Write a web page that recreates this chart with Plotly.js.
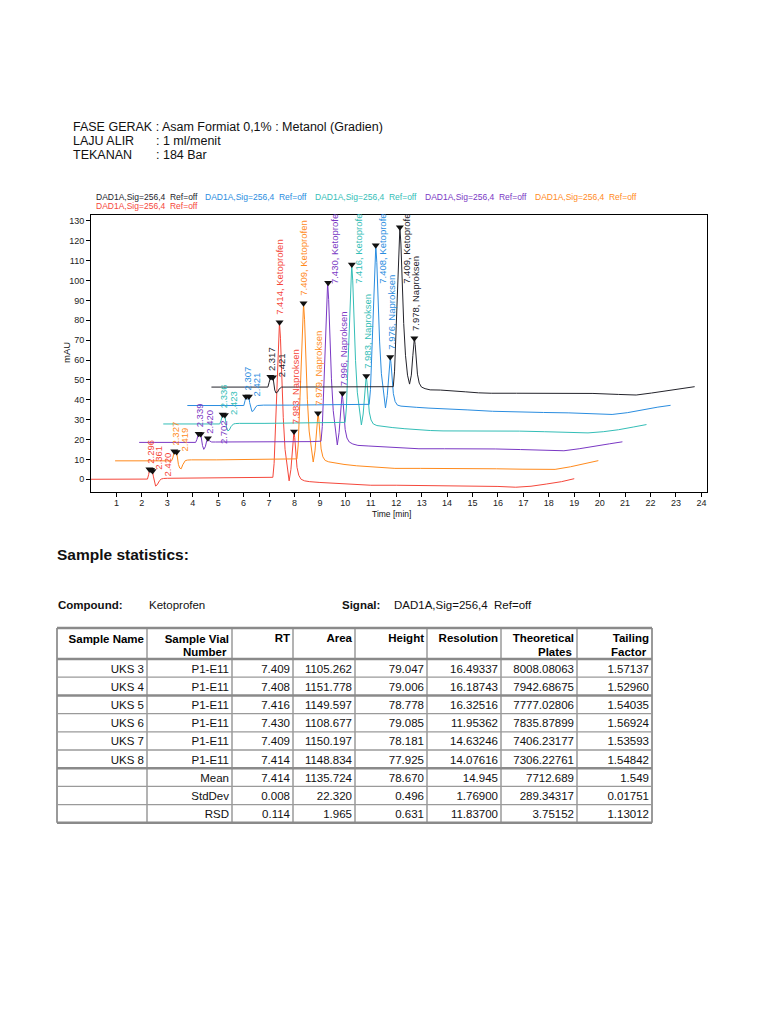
<!DOCTYPE html>
<html>
<head>
<meta charset="utf-8">
<script src="https://cdn.plot.ly/plotly-3.0.1.min.js"></script>
<style>
html,body{margin:0;padding:0;background:#fff;}
#chart{width:768px;height:1024px;}
</style>
</head>
<body>
<div id="chart"></div>
<script>
// ---------------- DATA ----------------
// raw retention time grid (min), shared by the six overlaid runs
const TIME = [0,1.0,2.0,2.22,2.27,2.30,2.33,2.36,2.39,2.42,2.45,2.49,2.54,2.60,2.66,2.70,2.76,2.85,3.0,4.0,5.0,6.0,6.8,7.15,7.20,7.26,7.32,7.37,7.41,7.45,7.50,7.56,7.63,7.71,7.79,7.86,7.92,7.955,7.98,8.01,8.05,8.10,8.17,8.26,8.40,8.6,9.0,9.5,10.0,10.5,11.0,12.0,13.0,14.0,15.0,16.0,16.7,17.3,17.9,18.5,19.0];

// detector signal (mAU) of each run
const SIG_RED    = [0,0,0, 0.1,2.5,5.0,3.8,4.8,3.4,4.2,1.6,-1.6,-3.4,-2.8,-1.3,-0.6,0.1,0.4, 0.5,0.6,0.6,0.7,0.8, 1.0,8,28,52,71,79.0,71,51,31,15,5.5,-0.8, 5,15.5,21.5,24.0,21,13,6,2.0,0,-0.8, -1.2,-1.6,-2.0,-2.4,-2.7,-3.0,-3.0,-3.1,-3.2,-3.3,-3.6,-4.0,-3.5,-2.4,-1.2,0.3];
const SIG_ORANGE = [0,0,0, 0,1.5,3.5,4.8,3.6,3.8,4.5,1.5,-1.8,-3.6,-4.0,-2.0,-0.8,0.1,0.4, 0.5,0.5,0.6,0.7,0.9, 1.0,8,28,52,71,79.3,71,51,31,15,5.5,-0.6, 5,15.5,21.5,24.0,21,13,6,2.0,0.2,-0.5, -1.0,-1.8,-2.5,-3.0,-3.4,-3.8,-3.8,-3.8,-3.8,-4.0,-4.2,-4.4,-4.3,-3.0,-1.5,0.1];
const SIG_PURPLE = [0,0,0, 0,1.5,3.2,4.4,3.4,3.3,4.2,1.5,-1.6,-3.5,-2.2,1.0,2.1,0.8,0.2, 0.2,0.2,0.3,0.3,0.4, 0.6,8,28,53,72,80.3,72,52,32,16,6,-1.3, 5,16,22,24.7,21.5,13.5,6.5,2.2,0.2,-0.8, -1.5,-1.8,-2.1,-2.6,-3.0,-3.2,-3.2,-3.2,-3.3,-3.6,-4.0,-4.2,-3.2,-1.8,-0.7,0.3];
const SIG_TEAL   = [0,0,0, 0,1.6,3.5,4.7,3.5,3.6,4.5,1.5,-1.8,-3.5,-3.0,-1.4,-0.6,0,0.2, 0.3,0.3,0.4,0.5,0.6, 0.8,8,28,53,72,80.2,72,52,32,16,6,-0.5, 5,15.5,21.5,24.1,21,13,6,2,0,-0.8, -1.2,-1.8,-2.4,-2.9,-3.3,-3.5,-3.5,-3.5,-3.6,-3.9,-4.3,-4.5,-3.9,-2.9,-1.5,-0.3];
const SIG_BLUE   = [0,0,0, 0,2.5,4.6,3.6,3.2,3.4,4.5,1.5,-1.5,-3.0,-2.6,-1.2,-0.5,0,0.1, 0.2,0.2,0.3,0.3,0.4, 0.6,8,28,53,72,80.6,72,52,32,16,6,-1.2, 5,16,22,24.4,21,13,6,2,0.2,-0.3, -0.6,-0.9,-1.3,-1.7,-2.0,-2.2,-2.9,-3.3,-3.5,-3.7,-4.2,-4.5,-3.6,-2.1,-0.8,0.1];
const SIG_BLACK  = [0,0,0, 0,2.4,4.8,5.2,3.8,3.6,5.0,1.6,-1.5,-3.0,-2.5,-1.0,-0.4,0,0, 0,0,0,0,0, 0.2,8,28,53,72,80.4,72,52,32,16,6,1.5, 6,16,22,24.6,21.5,13.5,6.5,2.0,0,-0.8, -1.4,-1.5,-1.8,-2.4,-2.9,-3.1,-3.1,-3.1,-3.1,-3.2,-3.7,-4.0,-3.0,-1.8,-0.6,0.2];

const SERIES_NAMES = ['DAD1A,Sig=256,4  Ref=off','DAD1A,Sig=256,4  Ref=off','DAD1A,Sig=256,4  Ref=off','DAD1A,Sig=256,4  Ref=off','DAD1A,Sig=256,4  Ref=off','DAD1A,Sig=256,4  Ref=off'];

// peak table (raw RT, height above run baseline)
const KETO_RT = [7.414, 7.409, 7.430, 7.416, 7.408, 7.409];
const KETO_H  = [79.0, 79.3, 80.3, 80.2, 80.6, 80.4];
const NAP_RT  = [7.983, 7.979, 7.996, 7.983, 7.976, 7.978];
const NAP_H   = [24.0, 24.0, 24.7, 24.1, 24.4, 24.6];
const MINOR_RT = [[2.296,2.361,2.420],[2.327,2.419],[2.339,2.420,2.702],[2.336,2.423],[2.307,2.421],[2.317,2.421]];
const MINOR_H  = [[5.0,4.8,4.2],[4.8,4.5],[4.4,4.2,2.1],[4.7,4.5],[4.6,4.5],[5.2,5.0]];

const X_TICKS = [1,2,3,4,5,6,7,8,9,10,11,12,13,14,15,16,17,18,19,20,21,22,23,24];
const Y_TICKS = [0,10,20,30,40,50,60,70,80,90,100,110,120,130];

// statistics table
const TABLE_HEAD_1 = ['Sample Name','Sample Vial','RT','Area','Height','Resolution','Theoretical','Tailing'];
const TABLE_HEAD_2 = ['','Number','','','','','Plates','Factor'];
const COL_SAMPLE = ['UKS 3','UKS 4','UKS 5','UKS 6','UKS 7','UKS 8','','',''];
const COL_VIAL   = ['P1-E11','P1-E11','P1-E11','P1-E11','P1-E11','P1-E11','Mean','StdDev','RSD'];
const COL_RT     = ['7.409','7.408','7.416','7.430','7.409','7.414','7.414','0.008','0.114'];
const COL_AREA   = ['1105.262','1151.778','1149.597','1108.677','1150.197','1148.834','1135.724','22.320','1.965'];
const COL_HEIGHT = ['79.047','79.006','78.778','79.085','78.181','77.925','78.670','0.496','0.631'];
const COL_RES    = ['16.49337','16.18743','16.32516','11.95362','14.63246','14.07616','14.945','1.76900','11.83700'];
const COL_PLATES = ['8008.08063','7942.68675','7777.02806','7835.87899','7406.23177','7306.22761','7712.689','289.34317','3.75152'];
const COL_TAIL   = ['1.57137','1.52960','1.54035','1.56924','1.53593','1.54842','1.549','0.01751','1.13012'];

// ---------------- STYLE / VIEW ----------------
const SIGNALS = [SIG_RED, SIG_ORANGE, SIG_PURPLE, SIG_TEAL, SIG_BLUE, SIG_BLACK];
const COLORS  = ['#f5473b','#ff8a1c','#7a38c4','#34beb7','#2a8de0','#23232b'];
const DX = 0.947, DY = 9.28;           // overlay offset between runs
const W = 768, H = 1024;
const px = v => v / W, py = v => 1 - v / H;
const FONT = 'Liberation Sans, Arial, Helvetica, sans-serif';
const LEGEND_ORDER = [5,4,3,2,1,0];
const LEGEND_POS = [[94,197],[203,197],[313,197],[423,197],[533,197],[94,206]];
const LABEL_CAP = 97.3;                 // tall-peak labels are moved down to this level
const nb = s => s.replace(/ /g, '&nbsp;');

const traces = [];
const annotations = [];

SIGNALS.forEach((sig, i) => {
  traces.push({
    type:'scatter', mode:'lines', name: SERIES_NAMES[i],
    x: TIME.map(t => t + i*DX), y: sig.map(v => v + i*DY),
    line:{color:COLORS[i], width:1}, hoverinfo:'skip'
  });
});

SIGNALS.forEach((sig, i) => {
  const rts = [KETO_RT[i], NAP_RT[i]].concat(MINOR_RT[i]);
  const hs  = [KETO_H[i], NAP_H[i]].concat(MINOR_H[i]);
  traces.push({
    type:'scatter', mode:'markers',
    x: rts.map(t => t + i*DX), y: hs.map(v => v + i*DY),
    marker:{symbol:'triangle-down', size:7, color:'#111'}, hoverinfo:'skip'
  });
  const lab = (x, y, text, xs, ys) => annotations.push({
    x, y, xref:'x', yref:'y', text, textangle:-90, showarrow:false,
    xanchor:'center', yanchor:'bottom', xshift:xs, yshift:ys,
    font:{family:FONT, size:9.5, color:COLORS[i]}
  });
  const ky = KETO_H[i] + i*DY;
  if (ky > 95) lab(KETO_RT[i] + i*DX, LABEL_CAP, KETO_RT[i].toFixed(3) + ', Ketoprofen', 7, 0);
  else lab(KETO_RT[i] + i*DX, ky, KETO_RT[i].toFixed(3) + ', Ketoprofen', 0, 5);
  lab(NAP_RT[i] + i*DX, NAP_H[i] + i*DY, NAP_RT[i].toFixed(3) + ', Naproksen', 1, 5);
  MINOR_RT[i].forEach((rt, j) => {
    lab(rt + i*DX, MINOR_H[i][j] + i*DY, rt.toFixed(3), 1 + 7*j, 4 - 6*j);
  });
});

// white cover so that peak labels are cut at the top of the plot frame
annotations.push({
  xref:'paper', yref:'paper', x:px(508), y:py(214.3), xanchor:'center', yanchor:'bottom',
  text:' ', showarrow:false, width:424, height:78, bgcolor:'#ffffff', borderpad:0, borderwidth:0
});

// legend (coloured text only)
LEGEND_ORDER.forEach((idx, k) => {
  annotations.push({
    xref:'paper', yref:'paper', x:px(LEGEND_POS[k][0]), y:py(LEGEND_POS[k][1]),
    xanchor:'left', yanchor:'middle', showarrow:false,
    text: SERIES_NAMES[idx].replace('  ', '&nbsp;&nbsp;'),
    font:{family:FONT, size:8.5, color:COLORS[idx]}
  });
});

const txt = (x, y, text, size, opts) => annotations.push(Object.assign({
  xref:'paper', yref:'paper', x:px(x), y:py(y), xanchor:'left', yanchor:'middle',
  showarrow:false, text, font:{family:FONT, size, color:'#111'}
}, opts || {}));

txt(71, 127, 'FASE GERAK : Asam Formiat 0,1% : Metanol (Gradien)', 12.5);
txt(71, 141, 'LAJU ALIR', 12.5);
txt(154, 141, ': 1 ml/menit', 12.5);
txt(71, 155, 'TEKANAN', 12.5);
txt(154, 155, ': 184 Bar', 12.5);
txt(391, 514, 'Time [min]', 8.5, {xanchor:'center'});
txt(66, 353, 'mAU', 9.5, {xanchor:'center', textangle:-90});
txt(55, 554, '<b>Sample statistics:</b>', 15.5);
txt(56, 605, '<b>Compound:</b>', 11.5);
txt(147, 605, 'Ketoprofen', 11.5);
txt(340, 605, '<b>Signal:</b>', 11.5);
txt(392, 605, 'DAD1A,Sig=256,4&nbsp;&nbsp;Ref=off', 11.5);

// ---- table ----
const COL_BORDERS = [57,147,232,293,355,427,501,577,652];
const ROW_H = 18.2, HEAD_H = 31, TABLE_TOP = 628;
const TEXT_DX = 5, TEXT_DY = -3;        // compensates the library's fixed cell padding
const colW = COL_BORDERS.slice(1).map((b, k) => b - COL_BORDERS[k]);
traces.push({
  type:'table',
  domain:{x:[px(COL_BORDERS[0] + TEXT_DX), px(COL_BORDERS[8] + TEXT_DX)],
          y:[py(TABLE_TOP + HEAD_H + 9*ROW_H + 30), py(TABLE_TOP + TEXT_DY)]},
  columnwidth: colW,
  header:{
    values: TABLE_HEAD_1.map(nb),
    align:'right', height:HEAD_H,
    font:{family:FONT, size:11.5, color:'#000', weight:'bold'},
    line:{color:'rgba(0,0,0,0)', width:0}, fill:{color:'#ffffff'}
  },
  cells:{
    values:[COL_SAMPLE, COL_VIAL, COL_RT, COL_AREA, COL_HEIGHT, COL_RES, COL_PLATES, COL_TAIL],
    align:'right', height:ROW_H,
    font:{family:FONT, size:11.5, color:'#111'},
    line:{color:'rgba(0,0,0,0)', width:0}, fill:{color:'#ffffff'}
  }
});
// second header line
TABLE_HEAD_2.forEach((t, k) => {
  if (t) txt(COL_BORDERS[k+1] - 3, 652, '<b>' + t + '</b>', 11.5, {xanchor:'right', font:{family:FONT, size:11.5, color:'#000'}});
});

// grid lines of the table
const shapes = [];
const GRID = '#9a9a9a';
const tableBottom = TABLE_TOP + HEAD_H + 9*ROW_H;
COL_BORDERS.forEach((x, k) => shapes.push({
  type:'line', xref:'paper', yref:'paper', x0:px(x), x1:px(x), y0:py(TABLE_TOP), y1:py(tableBottom),
  line:{color:GRID, width:(k === 0 || k === 8) ? 2 : 1.5}, layer:'above'
}));
const rowLines = [TABLE_TOP, TABLE_TOP + HEAD_H];
for (let r = 1; r <= 9; r++) rowLines.push(TABLE_TOP + HEAD_H + r*ROW_H);
const THICK = [1, 3, 7, 0, 10];
rowLines.forEach((y, k) => shapes.push({
  type:'line', xref:'paper', yref:'paper', x0:px(COL_BORDERS[0]), x1:px(COL_BORDERS[8]), y0:py(y), y1:py(y),
  line:{color:THICK.includes(k) ? '#8a8a8a' : GRID, width:THICK.includes(k) ? 2.5 : 1.3}, layer:'above'
}));

const layout = {
  width:W, height:H,
  margin:{l:0, r:0, t:0, b:0, pad:0},
  paper_bgcolor:'#ffffff', plot_bgcolor:'#ffffff',
  showlegend:false,
  font:{family:FONT, size:9, color:'#222'},
  xaxis:{
    domain:[px(91), px(707)], range:[0, 24.22], tickvals:X_TICKS,
    ticks:'outside', ticklen:4, tickcolor:'#000', tickwidth:1, ticklabelstandoff:-2,
    showline:true, linecolor:'#000', linewidth:1, mirror:true,
    showgrid:false, zeroline:false, fixedrange:true,
    tickfont:{family:FONT, size:9, color:'#222'}
  },
  yaxis:{
    domain:[py(492), py(215)], range:[-6.4, 133.0], tickvals:Y_TICKS,
    ticks:'outside', ticklen:4, tickcolor:'#000', tickwidth:1,
    showline:true, linecolor:'#000', linewidth:1, mirror:true,
    showgrid:false, zeroline:false, fixedrange:true,
    tickfont:{family:FONT, size:9, color:'#222'}
  },
  annotations, shapes
};

Plotly.newPlot('chart', traces, layout, {staticPlot:true, displayModeBar:false});
</script>
</body>
</html>
